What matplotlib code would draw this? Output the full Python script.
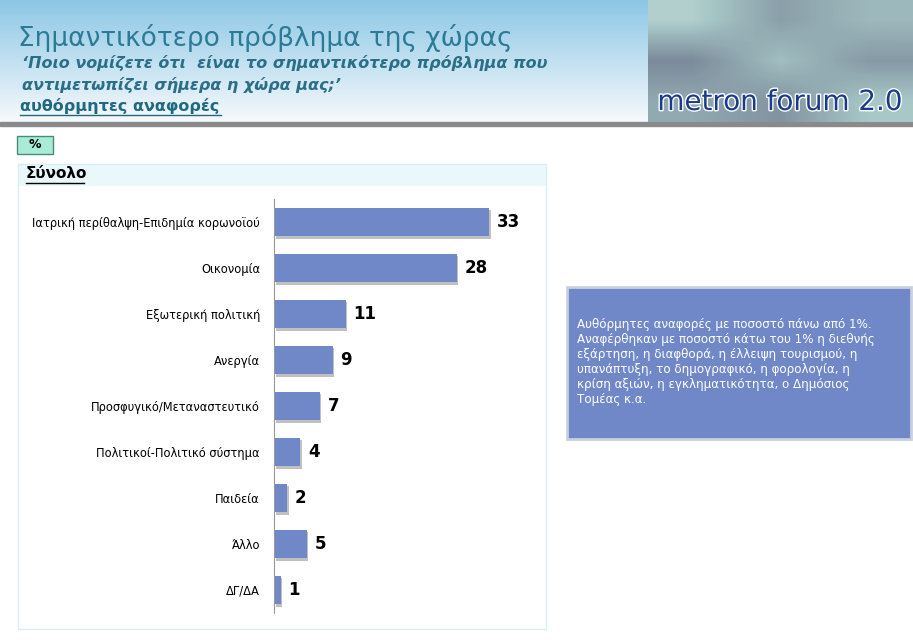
import numpy as np
import matplotlib.pyplot as plt
from matplotlib.patches import Rectangle
import matplotlib.patheffects as pe

categories = ['Ιατρική περίθαλψη-Επιδημία κορωνοϊού', 'Οικονομία', 'Εξωτερική πολιτική',
              'Ανεργία', 'Προσφυγικό/Μεταναστευτικό', 'Πολιτικοί-Πολιτικό σύστημα',
              'Παιδεία', 'Άλλο', 'ΔΓ/ΔΑ']
values = [33, 28, 11, 9, 7, 4, 2, 5, 1]

W, H = 913, 640
fig = plt.figure(figsize=(W / 100, H / 100), dpi=100)
fig.patch.set_facecolor('white')

# background layer in pixel coordinates
bg = fig.add_axes([0, 0, 1, 1])
bg.set_xlim(0, W)
bg.set_ylim(H, 0)
bg.axis('off')

# header gradient
grad = np.linspace(0, 1, 120).reshape(-1, 1)
top = np.array([0.55, 0.78, 0.90])
bot = np.array([0.97, 0.98, 0.99])
img = top + (bot - top) * grad[..., None]
img = np.repeat(img, 2, axis=1)
bg.imshow(img, extent=(0, W, 123, 0), aspect='auto', zorder=0)
bg.add_patch(Rectangle((0, 122), W, 4, color='#8a8a8a', zorder=1))

# photo placeholder
bg.imshow(np.array([[0.78, 0.62, 0.70], [0.55, 0.72, 0.60], [0.65, 0.58, 0.75]]),
          cmap='bone', extent=(648, 913, 122, 0), aspect='auto',
          interpolation='bilinear', vmin=0, vmax=1, zorder=3)
bg.text(780, 102, 'metron forum 2.0', fontsize=20, color='#1a3a8a', ha='center',
        va='center', zorder=4,
        path_effects=[pe.withStroke(linewidth=2, foreground='white')])

bg.text(18, 38, 'Σημαντικότερο πρόβλημα της χώρας', fontsize=19, color='#2c7b96',
        va='center')
bg.text(22, 63, '‘Ποιο νομίζετε ότι  είναι το σημαντικότερο πρόβλημα που', fontsize=11.5,
        color='#2a6f86', style='italic', weight='bold', va='center')
bg.text(22, 85, 'αντιμετωπίζει σήμερα η χώρα μας;’', fontsize=11.5,
        color='#2a6f86', style='italic', weight='bold', va='center')
bg.text(20, 106, 'αυθόρμητες αναφορές', fontsize=11.5, color='#1f6a82',
        weight='bold', va='center')
bg.plot([20, 221], [115, 115], color='#1f6a82', lw=1)

# % box
bg.add_patch(Rectangle((17, 136), 36, 18, facecolor='#a8ecd8', edgecolor='#4a8a78', lw=1))
bg.text(35, 145, '%', fontsize=9, weight='bold', ha='center', va='center')

# panel
bg.add_patch(Rectangle((18, 164), 528, 22, facecolor='#eaf8fc', edgecolor='none'))
bg.add_patch(Rectangle((18, 164), 528, 465, facecolor='none', edgecolor='#d8eef6', lw=1))
bg.text(26, 174, 'Σύνολο', fontsize=11, weight='bold', va='center')
bg.plot([26, 84], [183, 183], color='black', lw=1)

# note box
bg.add_patch(Rectangle((567, 287), 344, 152, facecolor='#7088c8', edgecolor='#c8d0e0', lw=2))
note = ('Αυθόρμητες αναφορές με ποσοστό πάνω από 1%.\n'
        'Αναφέρθηκαν με ποσοστό κάτω του 1% η διεθνής\n'
        'εξάρτηση, η διαφθορά, η έλλειψη τουρισμού, η\n'
        'υπανάπτυξη, το δημογραφικό, η φορολογία, η\n'
        'κρίση αξιών, η εγκληματικότητα, ο Δημόσιος\n'
        'Τομέας κ.α.')
bg.text(577, 318, note, fontsize=8.6, color='white', va='top', linespacing=1.2)

# bar chart
ax = fig.add_axes([274 / W, 1 - 613 / H, 271 / W, 414 / H])
y = np.arange(len(categories))
ax.barh(y + 0.05, values, height=0.62, color='#c0c0c0', left=0.25, zorder=1)
ax.barh(y, values, height=0.62, color='#7088c8', zorder=2)
ax.set_xlim(0, 41.5)
ax.set_ylim(len(categories) - 0.5, -0.5)
ax.set_yticks(y, categories, fontsize=8.3)
ax.set_xticks([])
ax.tick_params(axis='y', length=0, pad=10)
for s in ['top', 'right', 'bottom']:
    ax.spines[s].set_visible(False)
ax.spines['left'].set_color('#999999')
ax.patch.set_alpha(0)
for yi, v in zip(y, values):
    ax.text(v + 1.2, yi, str(v), va='center', fontsize=12, weight='bold')

fig.savefig('out.png', dpi=100)
